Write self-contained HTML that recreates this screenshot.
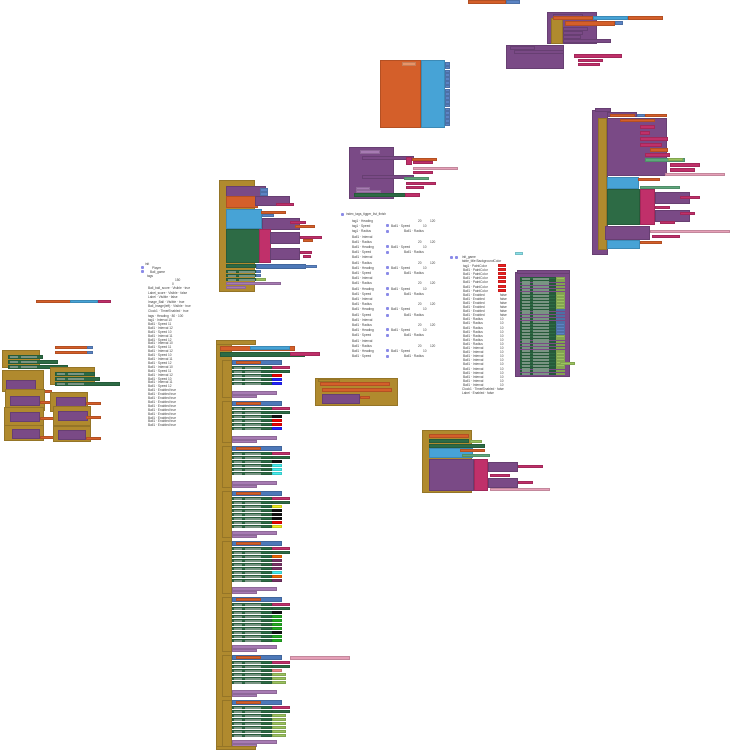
<!DOCTYPE html>
<html><head><meta charset="utf-8"><style>
html,body{margin:0;padding:0;background:#fff;width:730px;height:750px;overflow:hidden;position:relative;font-family:"Liberation Sans",sans-serif}
.b{position:absolute;box-sizing:border-box;border:0.5px solid rgba(0,0,0,0.15)}
.t{position:absolute;font-size:3.2px;color:#444;white-space:nowrap;line-height:4px}
.d{position:absolute;width:3px;height:3px;background:#8a8ae8;border-radius:1px}
</style></head><body>
<div id="r"></div>
<script>
var R=document.getElementById('r');
var C={G:'#b08a2e',P:'#7a4a86',D:'#2d6b45',O:'#d45f2a',B:'#47a3d6',K:'#c0306a',L:'#9bc25e',LP:'#a77bb3',BL:'#5b84c4',LG:'#cde0b0',W:'#ddd'};
function b(x,y,w,h,c){var e=document.createElement('div');e.className='b';e.style.cssText='left:'+x+'px;top:'+y+'px;width:'+w+'px;height:'+h+'px;background:'+(C[c]||c);R.appendChild(e);}
function t(x,y,s){var e=document.createElement('div');e.className='t';e.style.left=x+'px';e.style.top=y+'px';e.textContent=s;R.appendChild(e);}
function d(x,y){var e=document.createElement('div');e.className='d';e.style.left=x+'px';e.style.top=y+'px';R.appendChild(e);}
function row(x,y,w,h){b(x,y,w,h,'D');b(x+2,y+0.6,8,h-1.2,'#8fae9a');b(x+13,y+0.6,16,h-1.2,'#8fae9a');}

/* top */
b(468,0,38,4,'O');b(506,0,14,4,'BL');
/* top right */
b(547,12,50,32,'P');b(551,18,12,26,'G');b(553,14,30,4,'P');
b(553,16,40,4,'O');b(593,16,35,4,'B');b(628,16,35,4,'O');
b(565,21,50,5,'O');b(615,21,8,4,'BL');
b(563,27,25,4,'P');b(563,31,20,4,'P');b(563,35,18,4,'P');b(563,39,48,4,'P');
b(506,45,58,24,'P');b(510,46,25,4,'P');b(514,50,50,4,'P');b(574,54,48,4,'K');b(578,59,25,3,'K');b(578,63,22,3,'K');
/* orange/blue big */
b(380,60,41,68,'O');b(421,60,24,68,'B');b(402,62,14,4,'#e89468');
for(var i=0;i<17;i++)b(445,62+i*3.8,5,3.5,'BL');
/* middle purple */
b(349,147,45,52,'P');b(360,150,20,4,'LP');b(362,156,52,4,'P');
b(406,157,6,8,'K');b(412,158,25,3,'O');b(413,161,20,3,'K');b(413,167,45,3,'#e6a0b8');b(413,171,20,3,'K');
b(362,175,52,4,'P');b(404,177,25,3,'#5fa77c');b(406,182,30,3,'K');b(406,186,18,3,'K');
b(356,187,14,3,'LP');b(356,190,25,3,'LP');b(354,193,65,4,'D');b(405,193,15,4,'K');
/* right big */
b(592,110,16,145,'P');b(598,118,9,132,'G');b(595,108,16,4,'P');
b(607,112,30,5,'P');b(610,114,25,3,'O');b(637,114,8,3,'BL');b(645,114,22,3,'O');
b(607,118,60,58,'P');b(620,119,35,3,'O');
var ry=[125,131,137,143,148,153,158,163,168];var rx=[[640,15,'K'],[640,10,'K'],[640,28,'K'],[640,22,'K'],[650,18,'O'],[645,25,'K'],[645,40,'#5fa77c'],[670,30,'K'],[670,25,'K']];
for(var i=0;i<9;i++)b(rx[i][0],ry[i],rx[i][1],4,rx[i][2]);
b(668,158,15,3,'L');b(665,173,60,3,'#e6a0b8');
b(607,177,32,12,'B');b(638,178,22,3,'O');b(640,186,40,3,'#5fa77c');
b(607,189,33,36,'D');b(640,189,15,36,'K');b(655,192,35,12,'P');b(680,196,20,3,'K');b(655,206,15,3,'K');b(655,210,35,12,'P');b(680,212,15,3,'K');b(660,221,15,3,'K');
b(605,226,45,14,'P');b(650,230,80,3,'#e6a0b8');b(652,235,28,3,'K');
b(607,240,33,9,'B');b(640,241,22,3,'O');
/* block 220,180 */
b(219,180,36,112,'G');b(226,186,40,16,'P');b(260,188,8,4,'BL');b(260,192,8,4,'BL');
b(226,196,32,12,'O');b(255,196,35,10,'P');b(276,203,18,3,'K');
b(226,209,36,20,'B');b(261,211,25,3,'O');b(262,214,12,3,'BL');b(262,218,38,12,'P');b(290,221,16,3,'K');b(295,225,20,3,'O');
b(226,229,34,34,'D');b(259,229,12,34,'K');b(270,232,30,12,'P');b(300,236,22,3,'K');b(303,239,10,3,'O');b(270,248,30,12,'P');b(300,251,12,3,'K');b(303,255,8,3,'K');
b(226,264,30,4,'D');b(256,264,50,5,'#4d78b8');b(305,265,12,3,'BL');
row(226,270,30,3);row(226,274,30,3);row(226,278,30,3);b(226,282,55,3,'LP');b(226,286,20,3,'LP');
b(256,270,5,3,'BL');b(256,274,5,3,'BL');b(256,278,10,3,'L');
/* left small cluster */
b(36,300,75,3,'O');b(70,300,28,3,'B');b(98,300,13,3,'K');
b(55,346,35,3,'O');b(55,351,35,3,'O');b(87,346,6,3,'BL');b(87,351,6,3,'BL');
b(2,350,38,18,'G');row(8,355,35,4);row(8,360,50,4);row(8,365,60,4);
b(50,367,45,18,'G');row(55,372,40,4);row(55,377,45,4);row(55,382,65,4);
b(2,370,42,22,'G');b(6,380,30,10,'P');b(40,390,12,3,'O');
b(5,389,40,22,'G');b(10,396,30,10,'P');b(40,401,20,3,'O');
b(50,392,38,20,'G');b(56,397,30,10,'P');b(86,402,15,3,'O');
b(4,407,40,22,'G');b(10,412,30,10,'P');b(40,417,18,3,'O');
b(53,406,38,20,'G');b(58,411,30,10,'P');b(86,416,15,3,'O');
b(4,425,40,16,'G');b(12,429,28,10,'P');b(40,436,18,3,'O');
b(53,426,38,16,'G');b(58,430,28,10,'P');b(86,437,15,3,'O');
/* bottom middle */
b(315,378,83,28,'G');b(318,379,22,3,'G');b(320,382,70,4,'O');b(322,388,70,4,'O');b(322,394,38,10,'P');b(360,396,10,3,'O');
/* right lower */
b(422,430,50,63,'G');b(429,434,40,4,'O');b(429,439,40,4,'D');b(470,440,12,3,'L');b(429,444,56,4,'D');
b(429,448,44,10,'B');b(460,449,25,3,'O');b(462,454,28,3,'#5fa77c');
b(429,459,45,32,'P');b(474,459,14,32,'K');b(488,462,30,10,'P');b(518,465,25,3,'K');b(490,474,20,3,'K');b(488,478,30,10,'P');b(518,481,15,3,'K');b(490,488,60,3,'#e6a0b8');
/* right list */
b(515,272,55,105,'P');b(517,270,53,4,'P');
for(var i=0;i<34;i++){var y=277+i*2.9;row(520,y,36,2.6);var c=(i>=11&&i<20)?'BL':'L';b(556,y,9,2.6,c);}
b(560,362,15,3,'L');
b(515,252,8,3,'#8ae0e8');
/* big column */
b(216,342,16,408,'G');b(216,340,40,5,'G');b(220,346,75,5,'O');b(250,346,40,4,'B');b(220,352,85,5,'D');b(290,352,30,4,'K');
var groups=[[360,['#e00','#22f','#22f','#111','#111']],[401,['#111','#e00','#e00','#22f','#111']],[446,['#111','#4ee','#4ee','#4ee','#4ee']],[491,['#ee2','#111','#111','#111','#e00']],[541,['#e60','#736','#736','#736','#4ee']],[597,['#111','#2a2','#2a2','#2a2','#2a2']],[655,['#e88','#L','#L','#L','#L']],[700,['#L','#L','#L','#L','#L']]];
for(var g=0;g<groups.length;g++){var gy=groups[g][0];var nx=g<7?groups[g+1][0]:750;
 b(222,gy,10,(nx-gy-3),'G');
 b(232,gy,50,5,'#4d78b8');b(236,gy+1,25,3,'O');
 row(232,gy+6,40,3.4);b(272,gy+6,18,3.4,'K');
 row(232,gy+10,40,3.4);b(272,gy+10,18,3.4,'D');
 var cols=groups[g][1];var rows=Math.floor((nx-gy-26)/4);
 for(var i=0;i<rows;i++){var y=gy+14+i*4;row(232,y,40,3.2);var cc=cols[i%5];if(cc=='#L')b(272,y,14,3.2,'L');else b(272,y,10,3.2,cc);}
 b(232,nx-10,45,4,'LP');b(232,nx-6,25,3,'LP');
}
b(290,656,60,4,'#e6a0b8');
b(216,746,40,4,'G');

/* text lists middle */
d(341,213);t(346,212,'index_tags_tigger_list_finish');
var mt=['Heading','Speed','Radius','Interval','Radius','Heading','Speed','Interval','Radius','Heading','Speed','Interval','Radius','Heading','Speed','Interval','Radius','Heading','Speed','Interval','Radius','Heading','Speed','Interval','Radius','Heading','Speed'];
for(var i=0;i<27;i++){var y=219+i*5.2;t(352,y,(i<3?'tag1':'Ball1')+' · '+mt[i]);
 if(i%4==1){d(386,y);t(391,y,'Ball1 · Speed');t(423,y,'10');}
 if(i%4==2){d(386,y+1);t(404,y,'Ball1 · Radius');}
 if(i%4==0){t(418,y,'20');t(430,y,'120');}
}
/* text list left */
t(145,262,'init');d(141,266);t(152,266,'Player');d(141,270);t(150,270,'Ball_game');t(147,274,'tags');
t(175,278,'150');t(172,282,'0');
var lt=['Ball_ball_score · Visible · true','Label_score · Visible · false','Label · Visible · false','Image_Ball · Visible · true','Ball_Image(left) · Visible · true','Clock1 · TimerEnabled · true','tags · Heading · 80 · 100'];
for(var i=0;i<7;i++)t(148,286+i*4.6,lt[i]);
for(var i=0;i<28;i++){t(148,318+i*3.9,(i==0?'tag1':'Ball1')+' · '+(i<18?['Interval','Speed'][i%2]+'   '+(10+i%3):'Enabled   true'));}
/* right text list */
d(450,256);d(455,256);t(462,255,'init_game');t(462,259,'table_title  BackgroundColor');
for(var i=0;i<30;i++){var y=264+i*4.1;t(463,y,(i==0?'tag1':'Ball1')+' · '+(i<7?'PaintColor':i<13?'Enabled':i<20?'Radius':'Interval'));
 if(i<7)b(498,y,8,3,'#e22');else t(500,y,i<13?'false':'10');}
t(462,387,'Clock1 · TimerEnabled · false');t(462,391,'Label · Enabled · false');
</script>
</body></html>
